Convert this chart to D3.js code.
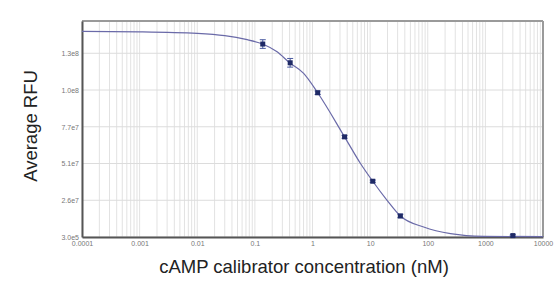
<!doctype html>
<html>
<head>
  <script src="https://cdnjs.cloudflare.com/ajax/libs/d3/7.8.5/d3.min.js"></script>
  <style>
    body { margin: 0; background: #fff; }
    svg { display: block; }
  </style>
</head>
<body>
<div id="viz"><svg width="559" height="282"></svg></div>
<script>
// calibrator points (nM) and mean RFU, with error half-widths
var conc = [0.137, 0.41, 1.23, 3.6, 11.1, 33.5, 3000];
var rfu = [1.342e8, 1.212e8, 1.004e8, 6.98e7, 3.9e7, 1.49e7, 1.27e6];
var err = [3.0e6, 3.0e6, 1.2e6, 1.0e6, 8e5, 1.2e6, 6e5];

// fitted curve
var curveX = [0.0001, 0.001, 0.01, 0.03, 0.07, 0.136, 0.243, 0.40, 0.695, 1.23, 3.6, 6.8, 11.1, 19.7, 33.5, 85, 248, 937, 10000];
var curveY = [1.430e8, 1.427e8, 1.416e8, 1.400e8, 1.374e8, 1.342e8, 1.288e8, 1.212e8, 1.140e8, 1.004e8, 6.98e7, 5.13e7, 3.9e7, 2.58e7, 1.49e7, 7.25e6, 2.66e6, 7.9e5, 5e5];

var xTicks = [0.0001, 0.001, 0.01, 0.1, 1, 10, 100, 1000, 10000];
var xTickLabels = ["0.0001", "0.001", "0.01", "0.1", "1", "10", "100", "1000", "10000"];
var yTicks = [3.0e5, 2.58e7, 5.13e7, 7.68e7, 1.023e8, 1.278e8];
var yTickLabels = ["3.0e5", "2.6e7", "5.1e7", "7.7e7", "1.0e8", "1.3e8"];

var plotL = 82, plotR = 543, plotT = 21, plotB = 237;
var svg = d3.select("svg");

var xScale = d3.scaleLog().domain([0.0001, 10000]).range([plotL, plotR]);
var yScale = d3.scaleLinear().domain([3.0e5, 1.502e8]).range([plotB, plotT]);

// minor + major vertical gridlines
var minor = [];
for (var d = -4; d < 4; d++) {
  for (var m = 1; m < 10; m++) minor.push(m * Math.pow(10, d));
}
minor.push(10000);
svg.append("g").selectAll("line.vg")
  .data(minor)
  .enter().append("line")
  .attr("class", "vg")
  .attr("x1", d => xScale(d)).attr("x2", d => xScale(d))
  .attr("y1", plotT).attr("y2", plotB)
  .style("stroke", "#e2e2e2")
  .style("stroke-width", 1);

svg.append("g").selectAll("line.hg")
  .data(yTicks)
  .enter().append("line")
  .attr("class", "hg")
  .attr("x1", plotL).attr("x2", plotR)
  .attr("y1", d => yScale(d)).attr("y2", d => yScale(d))
  .style("stroke", "#dcdcdc")
  .style("stroke-width", 1);

// frame
svg.append("line").attr("x1", plotL).attr("x2", plotR).attr("y1", plotT).attr("y2", plotT)
  .style("stroke", "#9a9a9a").style("stroke-width", 2);
svg.append("line").attr("x1", plotR).attr("x2", plotR).attr("y1", plotT).attr("y2", plotB)
  .style("stroke", "#9a9a9a").style("stroke-width", 2);

var xAxis = d3.axisBottom(xScale)
  .tickValues(xTicks)
  .tickFormat((d, i) => xTickLabels[i])
  .tickSize(0).tickPadding(4);
svg.append("g").attr("id", "xAxisG")
  .attr("transform", "translate(0," + plotB + ")")
  .call(xAxis);

var yAxis = d3.axisLeft(yScale)
  .tickValues(yTicks)
  .tickFormat((d, i) => yTickLabels[i])
  .tickSize(0).tickPadding(3);
svg.append("g").attr("id", "yAxisG")
  .attr("transform", "translate(" + plotL + ",0)")
  .call(yAxis);

svg.selectAll("#xAxisG path, #yAxisG path")
  .style("stroke", "#555").style("stroke-width", 2);
svg.selectAll("#xAxisG text, #yAxisG text")
  .style("font-family", "Liberation Sans, Arial, sans-serif")
  .style("font-size", "7px")
  .style("fill", "#777");

// fitted curve
var line = d3.line()
  .x(d => xScale(d[0]))
  .y(d => yScale(d[1]))
  .curve(d3.curveMonotoneX);
svg.append("path")
  .datum(curveX.map((x, i) => [x, curveY[i]]))
  .attr("d", line)
  .style("fill", "none")
  .style("stroke", "#6a6aa8")
  .style("stroke-width", 1.2);

// error bars
var pts = conc.map((c, i) => ({x: c, y: rfu[i], e: err[i]}));
svg.append("g").selectAll("line.eb")
  .data(pts)
  .enter().append("line")
  .attr("class", "eb")
  .attr("x1", d => xScale(d.x)).attr("x2", d => xScale(d.x))
  .attr("y1", d => yScale(d.y + d.e)).attr("y2", d => yScale(d.y - d.e))
  .style("stroke", "#4a5aa0").style("stroke-width", 1);
svg.append("g").selectAll("line.cap")
  .data(pts.flatMap(d => [d.y + d.e, d.y - d.e].map(v => ({x: d.x, v: v}))))
  .enter().append("line")
  .attr("class", "cap")
  .attr("x1", d => xScale(d.x) - 3).attr("x2", d => xScale(d.x) + 3)
  .attr("y1", d => yScale(d.v)).attr("y2", d => yScale(d.v))
  .style("stroke", "#4a5aa0").style("stroke-width", 1);

svg.append("g").selectAll("rect.pt")
  .data(pts)
  .enter().append("rect")
  .attr("class", "pt")
  .attr("x", d => xScale(d.x) - 2.5)
  .attr("y", d => yScale(d.y) - 2.5)
  .attr("width", 5).attr("height", 5)
  .style("fill", "#1f2a66");

// axis titles
svg.append("text")
  .attr("x", 304).attr("y", 273)
  .attr("text-anchor", "middle")
  .style("font-family", "Liberation Sans, Arial, sans-serif")
  .style("font-size", "18.5px")
  .style("fill", "#222")
  .text("cAMP calibrator concentration (nM)");

svg.append("text")
  .attr("transform", "translate(37,126) rotate(-90)")
  .attr("text-anchor", "middle")
  .style("font-family", "Liberation Sans, Arial, sans-serif")
  .style("font-size", "18.5px")
  .style("fill", "#222")
  .text("Average RFU");
</script>
</body>
</html>
